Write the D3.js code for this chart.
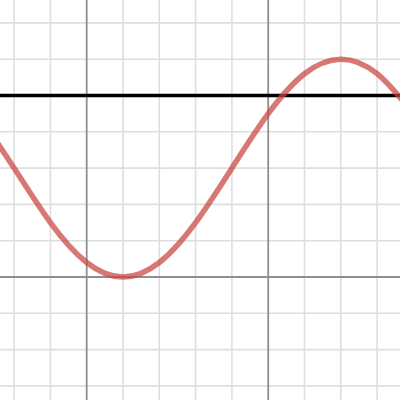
<!DOCTYPE html>
<html>
<head>
<meta charset="utf-8">
<script src="https://cdn.jsdelivr.net/npm/d3@7"></script>
<style>
  html, body { margin: 0; padding: 0; background: #fff; }
  svg { display: block; }
</style>
</head>
<body>
<div id="graph"></div>
<script>
// valeurs (unités de grille)
const curveX = [-3, -2, -1, 0, 1, 2, 3, 4, 5, 6, 7, 8, 9];
const curveY = [4.5, 3, 1.5, 0.4, 0, 0.4, 1.5, 3, 4.5, 5.6, 6, 5.6, 4.5];
const hLineY = 5;          // droite horizontale noire
const majorEvery = 5;      // une ligne foncée toutes les 5 unités

const width = 400, height = 400;
const unit = 36.3;

const x = d3.scaleLinear()
  .domain([-86.7 / unit, (width - 86.7) / unit])
  .range([0, width]);
const y = d3.scaleLinear()
  .domain([-(height - 277) / unit, 277 / unit])
  .range([height, 0]);

const svg = d3.select("#graph").append("svg")
  .attr("width", width)
  .attr("height", height);

// grille
const xTicks = d3.range(Math.ceil(x.domain()[0]), Math.floor(x.domain()[1]) + 1);
const yTicks = d3.range(Math.ceil(y.domain()[0]), Math.floor(y.domain()[1]) + 1);
const isMajor = v => ((v % majorEvery) + majorEvery) % majorEvery === 0;

const grid = svg.append("g");
grid.selectAll(".minor-x")
  .data(xTicks.filter(v => !isMajor(v)))
  .enter().append("line")
  .attr("x1", d => x(d)).attr("x2", d => x(d))
  .attr("y1", 0).attr("y2", height)
  .attr("stroke", "#dedede").attr("stroke-width", 1.6);
grid.selectAll(".minor-y")
  .data(yTicks.filter(v => !isMajor(v)))
  .enter().append("line")
  .attr("y1", d => y(d)).attr("y2", d => y(d))
  .attr("x1", 0).attr("x2", width)
  .attr("stroke", "#dedede").attr("stroke-width", 1.6);
grid.selectAll(".major-x")
  .data(xTicks.filter(isMajor))
  .enter().append("line")
  .attr("x1", d => x(d)).attr("x2", d => x(d))
  .attr("y1", 0).attr("y2", height)
  .attr("stroke", "#8f8f8f").attr("stroke-width", 1.8);
grid.selectAll(".major-y")
  .data(yTicks.filter(isMajor))
  .enter().append("line")
  .attr("y1", d => y(d)).attr("y2", d => y(d))
  .attr("x1", 0).attr("x2", width)
  .attr("stroke", "#8f8f8f").attr("stroke-width", 1.8);

// droite noire
svg.append("line")
  .attr("x1", 0).attr("x2", width)
  .attr("y1", y(hLineY)).attr("y2", y(hLineY))
  .attr("stroke", "#000").attr("stroke-width", 3.5);

// courbe rouge
const line = d3.line()
  .x(i => x(curveX[i]))
  .y(i => y(curveY[i]))
  .curve(d3.curveNatural);

svg.append("path")
  .datum(d3.range(curveX.length))
  .attr("d", line)
  .attr("fill", "none")
  .attr("stroke", "#c74440")
  .attr("stroke-opacity", 0.72)
  .attr("stroke-width", 5.5)
  .attr("stroke-linecap", "round");
</script>
</body>
</html>
